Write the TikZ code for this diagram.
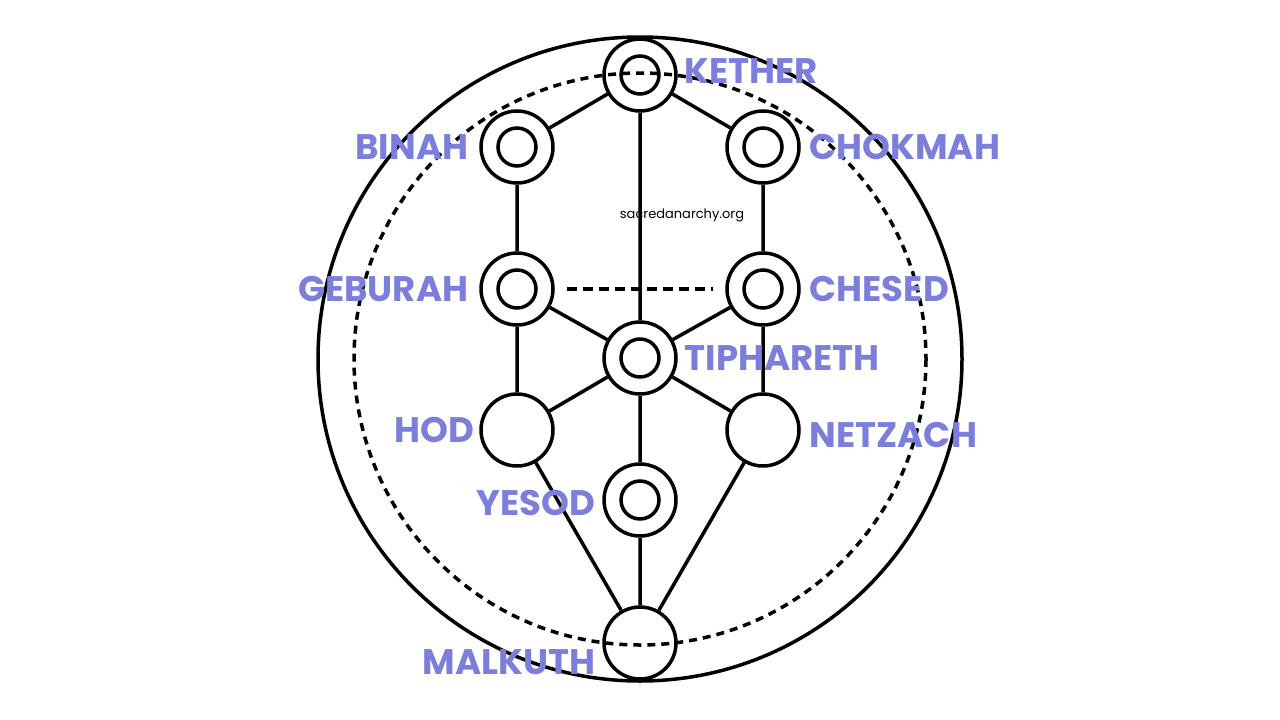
\documentclass[tikz,border=0pt]{standalone}
\usepackage{fontspec}
\setmainfont{Poppins}
\definecolor{lab}{HTML}{7B7FDB}
\begin{document}
\begin{tikzpicture}[x=1pt,y=-1pt,line width=3.5pt,
  sef/.style={circle,draw,minimum size=72pt,inner sep=0pt,
    path picture={\draw[line width=3.5pt] (path picture bounding box.center) circle (19pt);}},
  plain/.style={circle,draw,minimum size=72pt,inner sep=0pt},
  lbl/.style={text=lab,font=\fontsize{35.5}{35.5}\selectfont\bfseries,inner sep=0pt}]
\useasboundingbox (0,0) rectangle (1280,720);
\draw (640,359) circle (322);
\draw[dashed,dash pattern=on 8pt off 6pt] (640,359) circle (286);
\node[sef] (ke) at (640,75) {};
\node[sef] (bi) at (517,147) {};
\node[sef] (ch) at (763,147) {};
\node[sef] (ge) at (517,289) {};
\node[sef] (cs) at (763,289) {};
\node[sef] (ti) at (640,358) {};
\node[plain] (ho) at (517,430) {};
\node[plain] (ne) at (763,430) {};
\node[sef] (ye) at (640,500) {};
\node[plain] (ma) at (640,643) {};
\draw (ke)--(bi) (ke)--(ch) (ke)--(ti) (bi)--(ge) (ch)--(cs)
  (ge)--(ti) (cs)--(ti) (ge)--(ho) (cs)--(ne) (ti)--(ho) (ti)--(ne) (ti)--(ye)
  (ho)--(ma) (ne)--(ma) (ye)--(ma);
\draw[dashed,dash pattern=on 10pt off 6pt,shorten <=12pt,shorten >=12pt] (ge)--(cs);
\node[lbl,anchor=west] (l1) at (683,71) {KETHER};
\node[lbl,anchor=east] (l2) at (470,147) {BINAH};
\node[lbl,anchor=west] (l3) at (808,147) {CHOKMAH};
\node[lbl,anchor=east] (l4) at (470,289) {GEBURAH};
\node[lbl,anchor=west] (l5) at (808,289) {CHESED};
\node[lbl,anchor=west] (l6) at (683,358) {TIPHARETH};
\node[lbl,anchor=east] (l7) at (476,430) {HOD};
\node[lbl,anchor=west] (l8) at (808,435) {NETZACH};
\node[lbl,anchor=east] (l9) at (597,503) {YESOD};
\node[lbl,anchor=east] (l10) at (597,662) {MALKUTH};
\node[font=\fontsize{13}{13}\selectfont,inner sep=0pt] (w) at (682,215) {sacredanarchy.org};
\end{tikzpicture}
\end{document}
